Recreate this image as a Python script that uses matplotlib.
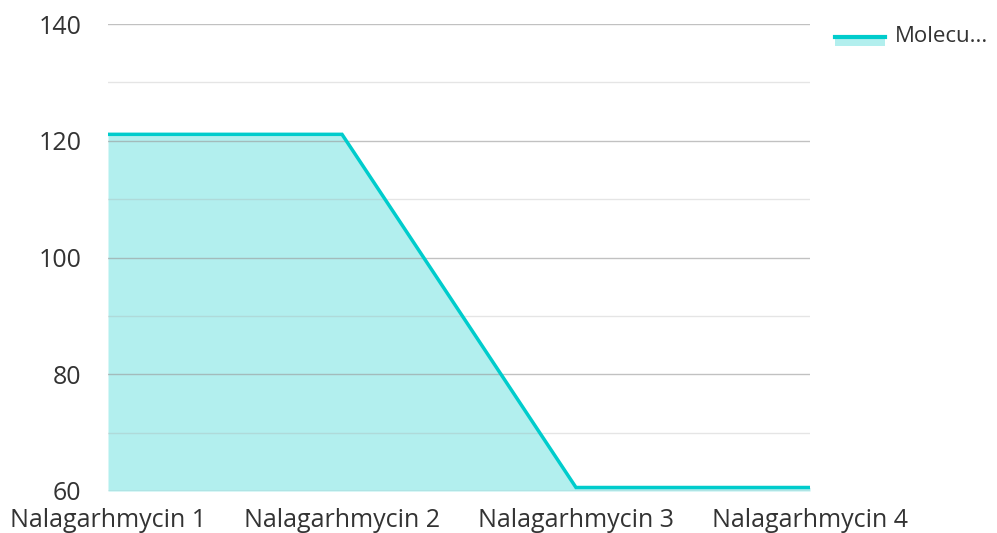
import matplotlib.pyplot as plt
from matplotlib.lines import Line2D
from matplotlib.patches import Rectangle

plt.rcParams['font.family'] = ['Open Sans', 'DejaVu Sans']

categories = ['Nalagarhmycin 1', 'Nalagarhmycin 2', 'Nalagarhmycin 3', 'Nalagarhmycin 4']
values = [121.1, 121.1, 60.6, 60.6]
series_name = 'Molecu...'
y_ticks = [60, 80, 100, 120, 140]
y_minor = [70, 90, 110, 130]

line_color = '#00cccc'
fill_color = '#b2efee'
text_color = '#333333'

fig = plt.figure(figsize=(9.97, 5.33), dpi=100)
ax = fig.add_axes([108 / 997, 42 / 533, 702 / 997, 467 / 533])

x = list(range(len(categories)))
ax.fill_between(x, values, 60, color=fill_color, lw=0, zorder=1)
ax.plot(x, values, color=line_color, lw=2.5, zorder=4, solid_joinstyle='miter')

for y in y_ticks:
    ax.axhline(y, color='#999999', lw=1, alpha=0.6, zorder=2)
for y in y_minor:
    ax.axhline(y, color='#aaaaaa', lw=1, alpha=0.3, zorder=2)

ax.set_xlim(0, len(categories) - 1)
ax.set_ylim(60, 140)
ax.set_yticks(y_ticks)
ax.set_xticks(x)
ax.set_xticklabels(categories)
ax.tick_params(axis='both', length=0, labelsize=18, colors=text_color)
ax.tick_params(axis='y', pad=19)
ax.tick_params(axis='x', pad=12)
for s in ax.spines.values():
    s.set_visible(False)

# legend
fig.add_artist(Rectangle((835 / 997, 1 - 46 / 533), 50 / 997, 8 / 533,
                         transform=fig.transFigure, color=fill_color, lw=0))
fig.add_artist(Line2D([835 / 997, 885 / 997], [1 - 37 / 533, 1 - 37 / 533],
                      transform=fig.transFigure, color=line_color, lw=3))
fig.text(895 / 997, 1 - 37 / 533, series_name, fontsize=16, color=text_color,
         va='center', ha='left')

fig.savefig('out.png', dpi=100)
